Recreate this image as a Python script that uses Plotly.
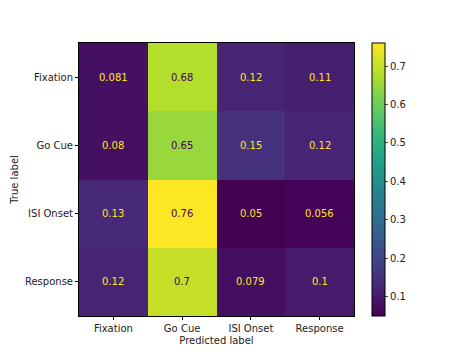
import plotly.graph_objects as go

labels = ["Fixation", "Go Cue", "ISI Onset", "Response"]
row_fixation = [0.081, 0.68, 0.12, 0.11]
row_gocue = [0.08, 0.65, 0.15, 0.12]
row_isi = [0.13, 0.76, 0.05, 0.056]
row_response = [0.12, 0.7, 0.079, 0.1]
cbar_ticks = [0.1, 0.2, 0.3, 0.4, 0.5, 0.6, 0.7]

z = [row_fixation, row_gocue, row_isi, row_response]
flat = [v for r in z for v in r]
zmin, zmax = min(flat), max(flat)
thresh = (zmin + zmax) / 2

FONT = "DejaVu Sans"

# page body has an 8px default margin; the figure is sized to fill the window
OFF = 8
W, H = 474 - 2 * OFF, 355 - 2 * OFF
L, T = 79 - OFF, 43 - OFF
PW, PH = 275, 273

fig = go.Figure(go.Heatmap(
    z=z, x=labels, y=labels, colorscale="Viridis", zmin=zmin, zmax=zmax,
    colorbar=dict(
        x=(372 - 79) / PW, xanchor="left", xref="paper",
        y=0, yanchor="bottom", len=1, lenmode="fraction",
        thickness=13, outlinewidth=1, outlinecolor="black",
        tickvals=cbar_ticks, ticks="outside", ticklen=3,
        tickfont=dict(family=FONT, size=10, color="#222"),
        ypad=0, xpad=0,
    ),
))

annotations = []
for i, row in enumerate(z):
    for j, v in enumerate(row):
        col = "#440154" if v > thresh else "#fde725"
        annotations.append(dict(
            x=labels[j], y=labels[i], text=format(v, ".2g"), showarrow=False,
            font=dict(family=FONT, size=10, color=col),
        ))

fig.update_layout(
    width=W, height=H,
    margin=dict(l=L, r=W - L - PW, t=T, b=H - T - PH, autoexpand=False),
    paper_bgcolor="white", plot_bgcolor="white",
    annotations=annotations,
    font=dict(family=FONT, size=10, color="#222"),
    xaxis=dict(title=dict(text="Predicted label", standoff=3, font=dict(size=10)),
               showline=True, linecolor="black", linewidth=1, mirror=True,
               ticks="outside", ticklen=3, tickcolor="black", showgrid=False),
    yaxis=dict(title=dict(text="True label", standoff=4, font=dict(size=10)),
               autorange="reversed",
               showline=True, linecolor="black", linewidth=1, mirror=True,
               ticks="outside", ticklen=3, tickcolor="black", showgrid=False),
)

fig.write_html("out.html")
